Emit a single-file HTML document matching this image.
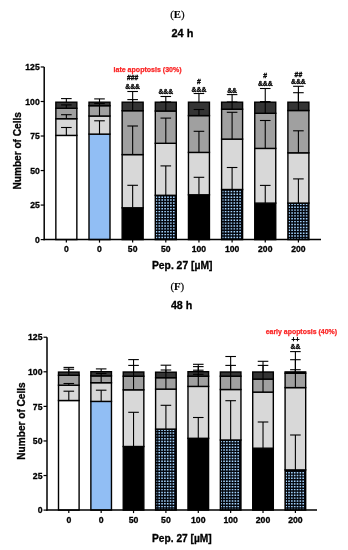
<!DOCTYPE html>
<html><head><meta charset="utf-8"><style>
html,body{margin:0;padding:0;background:#fff;}
body{width:348px;height:550px;overflow:hidden;}
svg{display:block;}
text{font-family:"Liberation Sans",Arial,sans-serif;font-weight:bold;fill:#000;stroke:#000;stroke-width:0.3px;}
.ser{font-family:"Liberation Serif","Times New Roman",serif;}
.red{fill:#fb2424;stroke:#fb2424;stroke-width:0.25px;}
.ser{stroke-width:0.15px;}
.np{font-weight:normal;stroke-width:0.2px;}
</style></head><body>
<svg width="348" height="550" viewBox="0 0 348 550">
<defs>

</defs>
<rect width="348" height="550" fill="#fff"/>
<rect x="55.85" y="135.4" width="21" height="104.2" fill="#fff" stroke="#000" stroke-width="1.4"/>
<rect x="55.85" y="118.7" width="21" height="16.7" fill="#d8d8d8" stroke="#000" stroke-width="1.4"/>
<rect x="55.85" y="108.3" width="21" height="10.4" fill="#a0a0a0" stroke="#000" stroke-width="1.4"/>
<rect x="55.85" y="102.2" width="21" height="6.1" fill="#343434" stroke="#000" stroke-width="1.4"/>
<line x1="66.35" y1="135.4" x2="66.35" y2="127.5" stroke="#000" stroke-width="1.1"/>
<line x1="61.05" y1="127.5" x2="71.65" y2="127.5" stroke="#000" stroke-width="1.1"/>
<line x1="66.35" y1="118.7" x2="66.35" y2="114.7" stroke="#000" stroke-width="1.1"/>
<line x1="61.05" y1="114.7" x2="71.65" y2="114.7" stroke="#000" stroke-width="1.1"/>
<line x1="66.35" y1="108.3" x2="66.35" y2="104.9" stroke="#000" stroke-width="1.1"/>
<line x1="61.05" y1="104.9" x2="71.65" y2="104.9" stroke="#000" stroke-width="1.1"/>
<line x1="66.35" y1="102.2" x2="66.35" y2="98.6" stroke="#000" stroke-width="1.1"/>
<line x1="61.05" y1="98.6" x2="71.65" y2="98.6" stroke="#000" stroke-width="1.1"/>
<rect x="89" y="134.1" width="21" height="105.5" fill="#91bef4" stroke="#000" stroke-width="1.4"/>
<rect x="89" y="116" width="21" height="18.1" fill="#d8d8d8" stroke="#000" stroke-width="1.4"/>
<rect x="89" y="105.7" width="21" height="10.3" fill="#a0a0a0" stroke="#000" stroke-width="1.4"/>
<rect x="89" y="102.2" width="21" height="3.5" fill="#343434" stroke="#000" stroke-width="1.4"/>
<line x1="99.5" y1="134.1" x2="99.5" y2="120.8" stroke="#000" stroke-width="1.1"/>
<line x1="94.2" y1="120.8" x2="104.8" y2="120.8" stroke="#000" stroke-width="1.1"/>
<line x1="99.5" y1="116" x2="99.5" y2="103.6" stroke="#000" stroke-width="1.1"/>
<line x1="94.2" y1="103.6" x2="104.8" y2="103.6" stroke="#000" stroke-width="1.1"/>
<line x1="99.5" y1="102.2" x2="99.5" y2="98.9" stroke="#000" stroke-width="1.1"/>
<line x1="94.2" y1="98.9" x2="104.8" y2="98.9" stroke="#000" stroke-width="1.1"/>
<rect x="122.15" y="207.8" width="21" height="31.8" fill="#000" stroke="#000" stroke-width="1.4"/>
<rect x="122.15" y="154.6" width="21" height="53.2" fill="#d8d8d8" stroke="#000" stroke-width="1.4"/>
<rect x="122.15" y="110.7" width="21" height="43.9" fill="#a0a0a0" stroke="#000" stroke-width="1.4"/>
<rect x="122.15" y="102.2" width="21" height="8.5" fill="#343434" stroke="#000" stroke-width="1.4"/>
<line x1="132.65" y1="207.8" x2="132.65" y2="185.3" stroke="#000" stroke-width="1.1"/>
<line x1="127.35" y1="185.3" x2="137.95" y2="185.3" stroke="#000" stroke-width="1.1"/>
<line x1="132.65" y1="154.6" x2="132.65" y2="126" stroke="#000" stroke-width="1.1"/>
<line x1="127.35" y1="126" x2="137.95" y2="126" stroke="#000" stroke-width="1.1"/>
<line x1="132.65" y1="110.7" x2="132.65" y2="99.6" stroke="#000" stroke-width="1.1"/>
<line x1="127.35" y1="99.6" x2="137.95" y2="99.6" stroke="#000" stroke-width="1.1"/>
<line x1="132.65" y1="102.2" x2="132.65" y2="91.5" stroke="#000" stroke-width="1.1"/>
<line x1="127.35" y1="91.5" x2="137.95" y2="91.5" stroke="#000" stroke-width="1.1"/>
<rect x="155.3" y="195.3" width="21" height="44.3" fill="#04070e"/>
<path fill="#a2d2fc" d="M156 196.47h1.2v1.45h-1.2zM156 199.36h1.2v1.45h-1.2zM156 202.24h1.2v1.45h-1.2zM156 205.12h1.2v1.45h-1.2zM156 208h1.2v1.45h-1.2zM156 210.88h1.2v1.45h-1.2zM156 213.75h1.2v1.45h-1.2zM156 216.64h1.2v1.45h-1.2zM156 219.52h1.2v1.45h-1.2zM156 222.4h1.2v1.45h-1.2zM156 225.28h1.2v1.45h-1.2zM156 228.16h1.2v1.45h-1.2zM156 231.03h1.2v1.45h-1.2zM156 233.91h1.2v1.45h-1.2zM156 236.8h1.2v1.45h-1.2zM158.5 196.47h1.6v1.45h-1.6zM158.5 199.36h1.6v1.45h-1.6zM158.5 202.24h1.6v1.45h-1.6zM158.5 205.12h1.6v1.45h-1.6zM158.5 208h1.6v1.45h-1.6zM158.5 210.88h1.6v1.45h-1.6zM158.5 213.75h1.6v1.45h-1.6zM158.5 216.64h1.6v1.45h-1.6zM158.5 219.52h1.6v1.45h-1.6zM158.5 222.4h1.6v1.45h-1.6zM158.5 225.28h1.6v1.45h-1.6zM158.5 228.16h1.6v1.45h-1.6zM158.5 231.03h1.6v1.45h-1.6zM158.5 233.91h1.6v1.45h-1.6zM158.5 236.8h1.6v1.45h-1.6zM161.4 196.47h1.6v1.45h-1.6zM161.4 199.36h1.6v1.45h-1.6zM161.4 202.24h1.6v1.45h-1.6zM161.4 205.12h1.6v1.45h-1.6zM161.4 208h1.6v1.45h-1.6zM161.4 210.88h1.6v1.45h-1.6zM161.4 213.75h1.6v1.45h-1.6zM161.4 216.64h1.6v1.45h-1.6zM161.4 219.52h1.6v1.45h-1.6zM161.4 222.4h1.6v1.45h-1.6zM161.4 225.28h1.6v1.45h-1.6zM161.4 228.16h1.6v1.45h-1.6zM161.4 231.03h1.6v1.45h-1.6zM161.4 233.91h1.6v1.45h-1.6zM161.4 236.8h1.6v1.45h-1.6zM164.3 196.47h1.6v1.45h-1.6zM164.3 199.36h1.6v1.45h-1.6zM164.3 202.24h1.6v1.45h-1.6zM164.3 205.12h1.6v1.45h-1.6zM164.3 208h1.6v1.45h-1.6zM164.3 210.88h1.6v1.45h-1.6zM164.3 213.75h1.6v1.45h-1.6zM164.3 216.64h1.6v1.45h-1.6zM164.3 219.52h1.6v1.45h-1.6zM164.3 222.4h1.6v1.45h-1.6zM164.3 225.28h1.6v1.45h-1.6zM164.3 228.16h1.6v1.45h-1.6zM164.3 231.03h1.6v1.45h-1.6zM164.3 233.91h1.6v1.45h-1.6zM164.3 236.8h1.6v1.45h-1.6zM167.2 196.47h1.6v1.45h-1.6zM167.2 199.36h1.6v1.45h-1.6zM167.2 202.24h1.6v1.45h-1.6zM167.2 205.12h1.6v1.45h-1.6zM167.2 208h1.6v1.45h-1.6zM167.2 210.88h1.6v1.45h-1.6zM167.2 213.75h1.6v1.45h-1.6zM167.2 216.64h1.6v1.45h-1.6zM167.2 219.52h1.6v1.45h-1.6zM167.2 222.4h1.6v1.45h-1.6zM167.2 225.28h1.6v1.45h-1.6zM167.2 228.16h1.6v1.45h-1.6zM167.2 231.03h1.6v1.45h-1.6zM167.2 233.91h1.6v1.45h-1.6zM167.2 236.8h1.6v1.45h-1.6zM170.1 196.47h1.6v1.45h-1.6zM170.1 199.36h1.6v1.45h-1.6zM170.1 202.24h1.6v1.45h-1.6zM170.1 205.12h1.6v1.45h-1.6zM170.1 208h1.6v1.45h-1.6zM170.1 210.88h1.6v1.45h-1.6zM170.1 213.75h1.6v1.45h-1.6zM170.1 216.64h1.6v1.45h-1.6zM170.1 219.52h1.6v1.45h-1.6zM170.1 222.4h1.6v1.45h-1.6zM170.1 225.28h1.6v1.45h-1.6zM170.1 228.16h1.6v1.45h-1.6zM170.1 231.03h1.6v1.45h-1.6zM170.1 233.91h1.6v1.45h-1.6zM170.1 236.8h1.6v1.45h-1.6zM173 196.47h1.6v1.45h-1.6zM173 199.36h1.6v1.45h-1.6zM173 202.24h1.6v1.45h-1.6zM173 205.12h1.6v1.45h-1.6zM173 208h1.6v1.45h-1.6zM173 210.88h1.6v1.45h-1.6zM173 213.75h1.6v1.45h-1.6zM173 216.64h1.6v1.45h-1.6zM173 219.52h1.6v1.45h-1.6zM173 222.4h1.6v1.45h-1.6zM173 225.28h1.6v1.45h-1.6zM173 228.16h1.6v1.45h-1.6zM173 231.03h1.6v1.45h-1.6zM173 233.91h1.6v1.45h-1.6zM173 236.8h1.6v1.45h-1.6z"/>
<rect x="155.3" y="195.3" width="21" height="44.3" fill="none" stroke="#000" stroke-width="1.4"/>
<rect x="155.3" y="143.3" width="21" height="52" fill="#d8d8d8" stroke="#000" stroke-width="1.4"/>
<rect x="155.3" y="111" width="21" height="32.3" fill="#a0a0a0" stroke="#000" stroke-width="1.4"/>
<rect x="155.3" y="102.2" width="21" height="8.8" fill="#343434" stroke="#000" stroke-width="1.4"/>
<line x1="165.8" y1="195.3" x2="165.8" y2="165.9" stroke="#000" stroke-width="1.1"/>
<line x1="160.5" y1="165.9" x2="171.1" y2="165.9" stroke="#000" stroke-width="1.1"/>
<line x1="165.8" y1="143.3" x2="165.8" y2="118.1" stroke="#000" stroke-width="1.1"/>
<line x1="160.5" y1="118.1" x2="171.1" y2="118.1" stroke="#000" stroke-width="1.1"/>
<line x1="165.8" y1="111" x2="165.8" y2="102" stroke="#000" stroke-width="1.1"/>
<line x1="160.5" y1="102" x2="171.1" y2="102" stroke="#000" stroke-width="1.1"/>
<line x1="165.8" y1="102.2" x2="165.8" y2="96.5" stroke="#000" stroke-width="1.1"/>
<line x1="160.5" y1="96.5" x2="171.1" y2="96.5" stroke="#000" stroke-width="1.1"/>
<rect x="188.45" y="194.8" width="21" height="44.8" fill="#000" stroke="#000" stroke-width="1.4"/>
<rect x="188.45" y="152.4" width="21" height="42.4" fill="#d8d8d8" stroke="#000" stroke-width="1.4"/>
<rect x="188.45" y="115.6" width="21" height="36.8" fill="#a0a0a0" stroke="#000" stroke-width="1.4"/>
<rect x="188.45" y="102.2" width="21" height="13.4" fill="#343434" stroke="#000" stroke-width="1.4"/>
<line x1="198.95" y1="194.8" x2="198.95" y2="177.3" stroke="#000" stroke-width="1.1"/>
<line x1="193.65" y1="177.3" x2="204.25" y2="177.3" stroke="#000" stroke-width="1.1"/>
<line x1="198.95" y1="152.4" x2="198.95" y2="131.3" stroke="#000" stroke-width="1.1"/>
<line x1="193.65" y1="131.3" x2="204.25" y2="131.3" stroke="#000" stroke-width="1.1"/>
<line x1="198.95" y1="115.6" x2="198.95" y2="109.5" stroke="#000" stroke-width="1.1"/>
<line x1="193.65" y1="109.5" x2="204.25" y2="109.5" stroke="#000" stroke-width="1.1"/>
<line x1="198.95" y1="102.2" x2="198.95" y2="93.5" stroke="#000" stroke-width="1.1"/>
<line x1="193.65" y1="93.5" x2="204.25" y2="93.5" stroke="#000" stroke-width="1.1"/>
<rect x="221.6" y="189.5" width="21" height="50.1" fill="#04070e"/>
<path fill="#a2d2fc" d="M222.3 190.72h1.2v1.45h-1.2zM222.3 193.59h1.2v1.45h-1.2zM222.3 196.47h1.2v1.45h-1.2zM222.3 199.36h1.2v1.45h-1.2zM222.3 202.24h1.2v1.45h-1.2zM222.3 205.12h1.2v1.45h-1.2zM222.3 208h1.2v1.45h-1.2zM222.3 210.88h1.2v1.45h-1.2zM222.3 213.75h1.2v1.45h-1.2zM222.3 216.64h1.2v1.45h-1.2zM222.3 219.52h1.2v1.45h-1.2zM222.3 222.4h1.2v1.45h-1.2zM222.3 225.28h1.2v1.45h-1.2zM222.3 228.16h1.2v1.45h-1.2zM222.3 231.03h1.2v1.45h-1.2zM222.3 233.91h1.2v1.45h-1.2zM222.3 236.8h1.2v1.45h-1.2zM224.8 190.72h1.6v1.45h-1.6zM224.8 193.59h1.6v1.45h-1.6zM224.8 196.47h1.6v1.45h-1.6zM224.8 199.36h1.6v1.45h-1.6zM224.8 202.24h1.6v1.45h-1.6zM224.8 205.12h1.6v1.45h-1.6zM224.8 208h1.6v1.45h-1.6zM224.8 210.88h1.6v1.45h-1.6zM224.8 213.75h1.6v1.45h-1.6zM224.8 216.64h1.6v1.45h-1.6zM224.8 219.52h1.6v1.45h-1.6zM224.8 222.4h1.6v1.45h-1.6zM224.8 225.28h1.6v1.45h-1.6zM224.8 228.16h1.6v1.45h-1.6zM224.8 231.03h1.6v1.45h-1.6zM224.8 233.91h1.6v1.45h-1.6zM224.8 236.8h1.6v1.45h-1.6zM227.7 190.72h1.6v1.45h-1.6zM227.7 193.59h1.6v1.45h-1.6zM227.7 196.47h1.6v1.45h-1.6zM227.7 199.36h1.6v1.45h-1.6zM227.7 202.24h1.6v1.45h-1.6zM227.7 205.12h1.6v1.45h-1.6zM227.7 208h1.6v1.45h-1.6zM227.7 210.88h1.6v1.45h-1.6zM227.7 213.75h1.6v1.45h-1.6zM227.7 216.64h1.6v1.45h-1.6zM227.7 219.52h1.6v1.45h-1.6zM227.7 222.4h1.6v1.45h-1.6zM227.7 225.28h1.6v1.45h-1.6zM227.7 228.16h1.6v1.45h-1.6zM227.7 231.03h1.6v1.45h-1.6zM227.7 233.91h1.6v1.45h-1.6zM227.7 236.8h1.6v1.45h-1.6zM230.6 190.72h1.6v1.45h-1.6zM230.6 193.59h1.6v1.45h-1.6zM230.6 196.47h1.6v1.45h-1.6zM230.6 199.36h1.6v1.45h-1.6zM230.6 202.24h1.6v1.45h-1.6zM230.6 205.12h1.6v1.45h-1.6zM230.6 208h1.6v1.45h-1.6zM230.6 210.88h1.6v1.45h-1.6zM230.6 213.75h1.6v1.45h-1.6zM230.6 216.64h1.6v1.45h-1.6zM230.6 219.52h1.6v1.45h-1.6zM230.6 222.4h1.6v1.45h-1.6zM230.6 225.28h1.6v1.45h-1.6zM230.6 228.16h1.6v1.45h-1.6zM230.6 231.03h1.6v1.45h-1.6zM230.6 233.91h1.6v1.45h-1.6zM230.6 236.8h1.6v1.45h-1.6zM233.5 190.72h1.6v1.45h-1.6zM233.5 193.59h1.6v1.45h-1.6zM233.5 196.47h1.6v1.45h-1.6zM233.5 199.36h1.6v1.45h-1.6zM233.5 202.24h1.6v1.45h-1.6zM233.5 205.12h1.6v1.45h-1.6zM233.5 208h1.6v1.45h-1.6zM233.5 210.88h1.6v1.45h-1.6zM233.5 213.75h1.6v1.45h-1.6zM233.5 216.64h1.6v1.45h-1.6zM233.5 219.52h1.6v1.45h-1.6zM233.5 222.4h1.6v1.45h-1.6zM233.5 225.28h1.6v1.45h-1.6zM233.5 228.16h1.6v1.45h-1.6zM233.5 231.03h1.6v1.45h-1.6zM233.5 233.91h1.6v1.45h-1.6zM233.5 236.8h1.6v1.45h-1.6zM236.4 190.72h1.6v1.45h-1.6zM236.4 193.59h1.6v1.45h-1.6zM236.4 196.47h1.6v1.45h-1.6zM236.4 199.36h1.6v1.45h-1.6zM236.4 202.24h1.6v1.45h-1.6zM236.4 205.12h1.6v1.45h-1.6zM236.4 208h1.6v1.45h-1.6zM236.4 210.88h1.6v1.45h-1.6zM236.4 213.75h1.6v1.45h-1.6zM236.4 216.64h1.6v1.45h-1.6zM236.4 219.52h1.6v1.45h-1.6zM236.4 222.4h1.6v1.45h-1.6zM236.4 225.28h1.6v1.45h-1.6zM236.4 228.16h1.6v1.45h-1.6zM236.4 231.03h1.6v1.45h-1.6zM236.4 233.91h1.6v1.45h-1.6zM236.4 236.8h1.6v1.45h-1.6zM239.3 190.72h1.6v1.45h-1.6zM239.3 193.59h1.6v1.45h-1.6zM239.3 196.47h1.6v1.45h-1.6zM239.3 199.36h1.6v1.45h-1.6zM239.3 202.24h1.6v1.45h-1.6zM239.3 205.12h1.6v1.45h-1.6zM239.3 208h1.6v1.45h-1.6zM239.3 210.88h1.6v1.45h-1.6zM239.3 213.75h1.6v1.45h-1.6zM239.3 216.64h1.6v1.45h-1.6zM239.3 219.52h1.6v1.45h-1.6zM239.3 222.4h1.6v1.45h-1.6zM239.3 225.28h1.6v1.45h-1.6zM239.3 228.16h1.6v1.45h-1.6zM239.3 231.03h1.6v1.45h-1.6zM239.3 233.91h1.6v1.45h-1.6zM239.3 236.8h1.6v1.45h-1.6z"/>
<rect x="221.6" y="189.5" width="21" height="50.1" fill="none" stroke="#000" stroke-width="1.4"/>
<rect x="221.6" y="139.1" width="21" height="50.4" fill="#d8d8d8" stroke="#000" stroke-width="1.4"/>
<rect x="221.6" y="109.2" width="21" height="29.9" fill="#a0a0a0" stroke="#000" stroke-width="1.4"/>
<rect x="221.6" y="102.2" width="21" height="7" fill="#343434" stroke="#000" stroke-width="1.4"/>
<line x1="232.1" y1="189.5" x2="232.1" y2="167.5" stroke="#000" stroke-width="1.1"/>
<line x1="226.8" y1="167.5" x2="237.4" y2="167.5" stroke="#000" stroke-width="1.1"/>
<line x1="232.1" y1="139.1" x2="232.1" y2="112.3" stroke="#000" stroke-width="1.1"/>
<line x1="226.8" y1="112.3" x2="237.4" y2="112.3" stroke="#000" stroke-width="1.1"/>
<line x1="232.1" y1="109.2" x2="232.1" y2="102" stroke="#000" stroke-width="1.1"/>
<line x1="226.8" y1="102" x2="237.4" y2="102" stroke="#000" stroke-width="1.1"/>
<line x1="232.1" y1="102.2" x2="232.1" y2="94.6" stroke="#000" stroke-width="1.1"/>
<line x1="226.8" y1="94.6" x2="237.4" y2="94.6" stroke="#000" stroke-width="1.1"/>
<rect x="254.75" y="203.1" width="21" height="36.5" fill="#000" stroke="#000" stroke-width="1.4"/>
<rect x="254.75" y="148.4" width="21" height="54.7" fill="#d8d8d8" stroke="#000" stroke-width="1.4"/>
<rect x="254.75" y="113.3" width="21" height="35.1" fill="#a0a0a0" stroke="#000" stroke-width="1.4"/>
<rect x="254.75" y="102.2" width="21" height="11.1" fill="#343434" stroke="#000" stroke-width="1.4"/>
<line x1="265.25" y1="203.1" x2="265.25" y2="185.4" stroke="#000" stroke-width="1.1"/>
<line x1="259.95" y1="185.4" x2="270.55" y2="185.4" stroke="#000" stroke-width="1.1"/>
<line x1="265.25" y1="148.4" x2="265.25" y2="120.5" stroke="#000" stroke-width="1.1"/>
<line x1="259.95" y1="120.5" x2="270.55" y2="120.5" stroke="#000" stroke-width="1.1"/>
<line x1="265.25" y1="113.3" x2="265.25" y2="101.6" stroke="#000" stroke-width="1.1"/>
<line x1="259.95" y1="101.6" x2="270.55" y2="101.6" stroke="#000" stroke-width="1.1"/>
<line x1="265.25" y1="102.2" x2="265.25" y2="88.5" stroke="#000" stroke-width="1.1"/>
<line x1="259.95" y1="88.5" x2="270.55" y2="88.5" stroke="#000" stroke-width="1.1"/>
<rect x="287.9" y="203.1" width="21" height="36.5" fill="#04070e"/>
<path fill="#a2d2fc" d="M288.6 203.8h1.4v1.29h-1.4zM288.6 206.52h1.4v1.45h-1.4zM288.6 209.4h1.4v1.45h-1.4zM288.6 212.28h1.4v1.45h-1.4zM288.6 215.16h1.4v1.45h-1.4zM288.6 218.03h1.4v1.45h-1.4zM288.6 220.92h1.4v1.45h-1.4zM288.6 223.8h1.4v1.45h-1.4zM288.6 226.68h1.4v1.45h-1.4zM288.6 229.56h1.4v1.45h-1.4zM288.6 232.44h1.4v1.45h-1.4zM288.6 235.32h1.4v1.45h-1.4zM288.6 238.2h1.4v1.4h-1.4zM291.3 203.8h1.6v1.29h-1.6zM291.3 206.52h1.6v1.45h-1.6zM291.3 209.4h1.6v1.45h-1.6zM291.3 212.28h1.6v1.45h-1.6zM291.3 215.16h1.6v1.45h-1.6zM291.3 218.03h1.6v1.45h-1.6zM291.3 220.92h1.6v1.45h-1.6zM291.3 223.8h1.6v1.45h-1.6zM291.3 226.68h1.6v1.45h-1.6zM291.3 229.56h1.6v1.45h-1.6zM291.3 232.44h1.6v1.45h-1.6zM291.3 235.32h1.6v1.45h-1.6zM291.3 238.2h1.6v1.4h-1.6zM294.2 203.8h1.6v1.29h-1.6zM294.2 206.52h1.6v1.45h-1.6zM294.2 209.4h1.6v1.45h-1.6zM294.2 212.28h1.6v1.45h-1.6zM294.2 215.16h1.6v1.45h-1.6zM294.2 218.03h1.6v1.45h-1.6zM294.2 220.92h1.6v1.45h-1.6zM294.2 223.8h1.6v1.45h-1.6zM294.2 226.68h1.6v1.45h-1.6zM294.2 229.56h1.6v1.45h-1.6zM294.2 232.44h1.6v1.45h-1.6zM294.2 235.32h1.6v1.45h-1.6zM294.2 238.2h1.6v1.4h-1.6zM297.1 203.8h1.6v1.29h-1.6zM297.1 206.52h1.6v1.45h-1.6zM297.1 209.4h1.6v1.45h-1.6zM297.1 212.28h1.6v1.45h-1.6zM297.1 215.16h1.6v1.45h-1.6zM297.1 218.03h1.6v1.45h-1.6zM297.1 220.92h1.6v1.45h-1.6zM297.1 223.8h1.6v1.45h-1.6zM297.1 226.68h1.6v1.45h-1.6zM297.1 229.56h1.6v1.45h-1.6zM297.1 232.44h1.6v1.45h-1.6zM297.1 235.32h1.6v1.45h-1.6zM297.1 238.2h1.6v1.4h-1.6zM300 203.8h1.6v1.29h-1.6zM300 206.52h1.6v1.45h-1.6zM300 209.4h1.6v1.45h-1.6zM300 212.28h1.6v1.45h-1.6zM300 215.16h1.6v1.45h-1.6zM300 218.03h1.6v1.45h-1.6zM300 220.92h1.6v1.45h-1.6zM300 223.8h1.6v1.45h-1.6zM300 226.68h1.6v1.45h-1.6zM300 229.56h1.6v1.45h-1.6zM300 232.44h1.6v1.45h-1.6zM300 235.32h1.6v1.45h-1.6zM300 238.2h1.6v1.4h-1.6zM302.9 203.8h1.6v1.29h-1.6zM302.9 206.52h1.6v1.45h-1.6zM302.9 209.4h1.6v1.45h-1.6zM302.9 212.28h1.6v1.45h-1.6zM302.9 215.16h1.6v1.45h-1.6zM302.9 218.03h1.6v1.45h-1.6zM302.9 220.92h1.6v1.45h-1.6zM302.9 223.8h1.6v1.45h-1.6zM302.9 226.68h1.6v1.45h-1.6zM302.9 229.56h1.6v1.45h-1.6zM302.9 232.44h1.6v1.45h-1.6zM302.9 235.32h1.6v1.45h-1.6zM302.9 238.2h1.6v1.4h-1.6zM305.8 203.8h1.6v1.29h-1.6zM305.8 206.52h1.6v1.45h-1.6zM305.8 209.4h1.6v1.45h-1.6zM305.8 212.28h1.6v1.45h-1.6zM305.8 215.16h1.6v1.45h-1.6zM305.8 218.03h1.6v1.45h-1.6zM305.8 220.92h1.6v1.45h-1.6zM305.8 223.8h1.6v1.45h-1.6zM305.8 226.68h1.6v1.45h-1.6zM305.8 229.56h1.6v1.45h-1.6zM305.8 232.44h1.6v1.45h-1.6zM305.8 235.32h1.6v1.45h-1.6zM305.8 238.2h1.6v1.4h-1.6z"/>
<rect x="287.9" y="203.1" width="21" height="36.5" fill="none" stroke="#000" stroke-width="1.4"/>
<rect x="287.9" y="152.8" width="21" height="50.3" fill="#d8d8d8" stroke="#000" stroke-width="1.4"/>
<rect x="287.9" y="110.5" width="21" height="42.3" fill="#a0a0a0" stroke="#000" stroke-width="1.4"/>
<rect x="287.9" y="102.2" width="21" height="8.3" fill="#343434" stroke="#000" stroke-width="1.4"/>
<line x1="298.4" y1="203.1" x2="298.4" y2="178.9" stroke="#000" stroke-width="1.1"/>
<line x1="293.1" y1="178.9" x2="303.7" y2="178.9" stroke="#000" stroke-width="1.1"/>
<line x1="298.4" y1="152.8" x2="298.4" y2="130.8" stroke="#000" stroke-width="1.1"/>
<line x1="293.1" y1="130.8" x2="303.7" y2="130.8" stroke="#000" stroke-width="1.1"/>
<line x1="298.4" y1="110.5" x2="298.4" y2="92.7" stroke="#000" stroke-width="1.1"/>
<line x1="293.1" y1="92.7" x2="303.7" y2="92.7" stroke="#000" stroke-width="1.1"/>
<line x1="298.4" y1="102.2" x2="298.4" y2="86.3" stroke="#000" stroke-width="1.1"/>
<line x1="293.1" y1="86.3" x2="303.7" y2="86.3" stroke="#000" stroke-width="1.1"/>
<line x1="44.2" y1="66.97" x2="44.2" y2="240.35" stroke="#000" stroke-width="1.5"/>
<line x1="43.45" y1="239.6" x2="321" y2="239.6" stroke="#000" stroke-width="1.5"/>
<line x1="40.7" y1="239.6" x2="44.2" y2="239.6" stroke="#000" stroke-width="1.2"/>
<text x="39.7" y="242.7" text-anchor="end" class="tk" style="font-size:8.6px">0</text>
<line x1="40.7" y1="205.07" x2="44.2" y2="205.07" stroke="#000" stroke-width="1.2"/>
<text x="39.7" y="208.17" text-anchor="end" class="tk" style="font-size:8.6px">25</text>
<line x1="40.7" y1="170.55" x2="44.2" y2="170.55" stroke="#000" stroke-width="1.2"/>
<text x="39.7" y="173.65" text-anchor="end" class="tk" style="font-size:8.6px">50</text>
<line x1="40.7" y1="136.02" x2="44.2" y2="136.02" stroke="#000" stroke-width="1.2"/>
<text x="39.7" y="139.12" text-anchor="end" class="tk" style="font-size:8.6px">75</text>
<line x1="40.7" y1="101.5" x2="44.2" y2="101.5" stroke="#000" stroke-width="1.2"/>
<text x="39.7" y="104.6" text-anchor="end" class="tk" style="font-size:8.6px">100</text>
<line x1="40.7" y1="66.97" x2="44.2" y2="66.97" stroke="#000" stroke-width="1.2"/>
<text x="39.7" y="70.07" text-anchor="end" class="tk" style="font-size:8.6px">125</text>
<line x1="66.35" y1="239.6" x2="66.35" y2="242.6" stroke="#000" stroke-width="1.2"/>
<text x="66.35" y="251.6" text-anchor="middle" class="tk" style="font-size:8.6px">0</text>
<line x1="99.5" y1="239.6" x2="99.5" y2="242.6" stroke="#000" stroke-width="1.2"/>
<text x="99.5" y="251.6" text-anchor="middle" class="tk" style="font-size:8.6px">0</text>
<line x1="132.65" y1="239.6" x2="132.65" y2="242.6" stroke="#000" stroke-width="1.2"/>
<text x="132.65" y="251.6" text-anchor="middle" class="tk" style="font-size:8.6px">50</text>
<line x1="165.8" y1="239.6" x2="165.8" y2="242.6" stroke="#000" stroke-width="1.2"/>
<text x="165.8" y="251.6" text-anchor="middle" class="tk" style="font-size:8.6px">50</text>
<line x1="198.95" y1="239.6" x2="198.95" y2="242.6" stroke="#000" stroke-width="1.2"/>
<text x="198.95" y="251.6" text-anchor="middle" class="tk" style="font-size:8.6px">100</text>
<line x1="232.1" y1="239.6" x2="232.1" y2="242.6" stroke="#000" stroke-width="1.2"/>
<text x="232.1" y="251.6" text-anchor="middle" class="tk" style="font-size:8.6px">100</text>
<line x1="265.25" y1="239.6" x2="265.25" y2="242.6" stroke="#000" stroke-width="1.2"/>
<text x="265.25" y="251.6" text-anchor="middle" class="tk" style="font-size:8.6px">200</text>
<line x1="298.4" y1="239.6" x2="298.4" y2="242.6" stroke="#000" stroke-width="1.2"/>
<text x="298.4" y="251.6" text-anchor="middle" class="tk" style="font-size:8.6px">200</text>
<rect x="58.5" y="400.5" width="20.6" height="109.6" fill="#fff" stroke="#000" stroke-width="1.4"/>
<rect x="58.5" y="385.2" width="20.6" height="15.3" fill="#d8d8d8" stroke="#000" stroke-width="1.4"/>
<rect x="58.5" y="375.3" width="20.6" height="9.9" fill="#a0a0a0" stroke="#000" stroke-width="1.4"/>
<rect x="58.5" y="372.1" width="20.6" height="3.2" fill="#343434" stroke="#000" stroke-width="1.4"/>
<line x1="68.8" y1="400.5" x2="68.8" y2="391.2" stroke="#000" stroke-width="1.1"/>
<line x1="63.5" y1="391.2" x2="74.1" y2="391.2" stroke="#000" stroke-width="1.1"/>
<line x1="68.8" y1="385.2" x2="68.8" y2="383.5" stroke="#000" stroke-width="1.1"/>
<line x1="63.5" y1="383.5" x2="74.1" y2="383.5" stroke="#000" stroke-width="1.1"/>
<line x1="68.8" y1="375.3" x2="68.8" y2="369.2" stroke="#000" stroke-width="1.1"/>
<line x1="63.5" y1="369.2" x2="74.1" y2="369.2" stroke="#000" stroke-width="1.1"/>
<line x1="68.8" y1="372.1" x2="68.8" y2="367.4" stroke="#000" stroke-width="1.1"/>
<line x1="63.5" y1="367.4" x2="74.1" y2="367.4" stroke="#000" stroke-width="1.1"/>
<rect x="90.87" y="401.4" width="20.6" height="108.7" fill="#91bef4" stroke="#000" stroke-width="1.4"/>
<rect x="90.87" y="382.7" width="20.6" height="18.7" fill="#d8d8d8" stroke="#000" stroke-width="1.4"/>
<rect x="90.87" y="375.9" width="20.6" height="6.8" fill="#a0a0a0" stroke="#000" stroke-width="1.4"/>
<rect x="90.87" y="371.7" width="20.6" height="4.2" fill="#343434" stroke="#000" stroke-width="1.4"/>
<line x1="101.17" y1="401.4" x2="101.17" y2="390.2" stroke="#000" stroke-width="1.1"/>
<line x1="95.87" y1="390.2" x2="106.47" y2="390.2" stroke="#000" stroke-width="1.1"/>
<line x1="101.17" y1="382.7" x2="101.17" y2="373.5" stroke="#000" stroke-width="1.1"/>
<line x1="95.87" y1="373.5" x2="106.47" y2="373.5" stroke="#000" stroke-width="1.1"/>
<line x1="101.17" y1="371.7" x2="101.17" y2="368.9" stroke="#000" stroke-width="1.1"/>
<line x1="95.87" y1="368.9" x2="106.47" y2="368.9" stroke="#000" stroke-width="1.1"/>
<rect x="123.24" y="446.5" width="20.6" height="63.6" fill="#000" stroke="#000" stroke-width="1.4"/>
<rect x="123.24" y="389.8" width="20.6" height="56.7" fill="#d8d8d8" stroke="#000" stroke-width="1.4"/>
<rect x="123.24" y="376.2" width="20.6" height="13.6" fill="#a0a0a0" stroke="#000" stroke-width="1.4"/>
<rect x="123.24" y="372" width="20.6" height="4.2" fill="#343434" stroke="#000" stroke-width="1.4"/>
<line x1="133.54" y1="446.5" x2="133.54" y2="412.3" stroke="#000" stroke-width="1.1"/>
<line x1="128.24" y1="412.3" x2="138.84" y2="412.3" stroke="#000" stroke-width="1.1"/>
<line x1="133.54" y1="389.8" x2="133.54" y2="365.4" stroke="#000" stroke-width="1.1"/>
<line x1="128.24" y1="365.4" x2="138.84" y2="365.4" stroke="#000" stroke-width="1.1"/>
<line x1="133.54" y1="372" x2="133.54" y2="359.6" stroke="#000" stroke-width="1.1"/>
<line x1="128.24" y1="359.6" x2="138.84" y2="359.6" stroke="#000" stroke-width="1.1"/>
<rect x="155.61" y="429.1" width="20.6" height="81" fill="#04070e"/>
<path fill="#a2d2fc" d="M156.31 429.8h0.89v1.14h-0.89zM156.31 432.31h0.89v1.45h-0.89zM156.31 435.14h0.89v1.45h-0.89zM156.31 437.97h0.89v1.45h-0.89zM156.31 440.81h0.89v1.45h-0.89zM156.31 443.63h0.89v1.45h-0.89zM156.31 446.46h0.89v1.45h-0.89zM156.31 449.29h0.89v1.45h-0.89zM156.31 452.12h0.89v1.45h-0.89zM156.31 454.95h0.89v1.45h-0.89zM156.31 457.78h0.89v1.45h-0.89zM156.31 460.62h0.89v1.45h-0.89zM156.31 463.44h0.89v1.45h-0.89zM156.31 466.27h0.89v1.45h-0.89zM156.31 469.11h0.89v1.45h-0.89zM156.31 471.94h0.89v1.45h-0.89zM156.31 474.76h0.89v1.45h-0.89zM156.31 477.59h0.89v1.45h-0.89zM156.31 480.43h0.89v1.45h-0.89zM156.31 483.25h0.89v1.45h-0.89zM156.31 486.08h0.89v1.45h-0.89zM156.31 488.91h0.89v1.45h-0.89zM156.31 491.75h0.89v1.45h-0.89zM156.31 494.57h0.89v1.45h-0.89zM156.31 497.4h0.89v1.45h-0.89zM156.31 500.24h0.89v1.45h-0.89zM156.31 503.06h0.89v1.45h-0.89zM156.31 505.89h0.89v1.45h-0.89zM156.31 508.72h0.89v1.38h-0.89zM158.43 429.8h1.6v1.14h-1.6zM158.43 432.31h1.6v1.45h-1.6zM158.43 435.14h1.6v1.45h-1.6zM158.43 437.97h1.6v1.45h-1.6zM158.43 440.81h1.6v1.45h-1.6zM158.43 443.63h1.6v1.45h-1.6zM158.43 446.46h1.6v1.45h-1.6zM158.43 449.29h1.6v1.45h-1.6zM158.43 452.12h1.6v1.45h-1.6zM158.43 454.95h1.6v1.45h-1.6zM158.43 457.78h1.6v1.45h-1.6zM158.43 460.62h1.6v1.45h-1.6zM158.43 463.44h1.6v1.45h-1.6zM158.43 466.27h1.6v1.45h-1.6zM158.43 469.11h1.6v1.45h-1.6zM158.43 471.94h1.6v1.45h-1.6zM158.43 474.76h1.6v1.45h-1.6zM158.43 477.59h1.6v1.45h-1.6zM158.43 480.43h1.6v1.45h-1.6zM158.43 483.25h1.6v1.45h-1.6zM158.43 486.08h1.6v1.45h-1.6zM158.43 488.91h1.6v1.45h-1.6zM158.43 491.75h1.6v1.45h-1.6zM158.43 494.57h1.6v1.45h-1.6zM158.43 497.4h1.6v1.45h-1.6zM158.43 500.24h1.6v1.45h-1.6zM158.43 503.06h1.6v1.45h-1.6zM158.43 505.89h1.6v1.45h-1.6zM158.43 508.72h1.6v1.38h-1.6zM161.26 429.8h1.6v1.14h-1.6zM161.26 432.31h1.6v1.45h-1.6zM161.26 435.14h1.6v1.45h-1.6zM161.26 437.97h1.6v1.45h-1.6zM161.26 440.81h1.6v1.45h-1.6zM161.26 443.63h1.6v1.45h-1.6zM161.26 446.46h1.6v1.45h-1.6zM161.26 449.29h1.6v1.45h-1.6zM161.26 452.12h1.6v1.45h-1.6zM161.26 454.95h1.6v1.45h-1.6zM161.26 457.78h1.6v1.45h-1.6zM161.26 460.62h1.6v1.45h-1.6zM161.26 463.44h1.6v1.45h-1.6zM161.26 466.27h1.6v1.45h-1.6zM161.26 469.11h1.6v1.45h-1.6zM161.26 471.94h1.6v1.45h-1.6zM161.26 474.76h1.6v1.45h-1.6zM161.26 477.59h1.6v1.45h-1.6zM161.26 480.43h1.6v1.45h-1.6zM161.26 483.25h1.6v1.45h-1.6zM161.26 486.08h1.6v1.45h-1.6zM161.26 488.91h1.6v1.45h-1.6zM161.26 491.75h1.6v1.45h-1.6zM161.26 494.57h1.6v1.45h-1.6zM161.26 497.4h1.6v1.45h-1.6zM161.26 500.24h1.6v1.45h-1.6zM161.26 503.06h1.6v1.45h-1.6zM161.26 505.89h1.6v1.45h-1.6zM161.26 508.72h1.6v1.38h-1.6zM164.09 429.8h1.6v1.14h-1.6zM164.09 432.31h1.6v1.45h-1.6zM164.09 435.14h1.6v1.45h-1.6zM164.09 437.97h1.6v1.45h-1.6zM164.09 440.81h1.6v1.45h-1.6zM164.09 443.63h1.6v1.45h-1.6zM164.09 446.46h1.6v1.45h-1.6zM164.09 449.29h1.6v1.45h-1.6zM164.09 452.12h1.6v1.45h-1.6zM164.09 454.95h1.6v1.45h-1.6zM164.09 457.78h1.6v1.45h-1.6zM164.09 460.62h1.6v1.45h-1.6zM164.09 463.44h1.6v1.45h-1.6zM164.09 466.27h1.6v1.45h-1.6zM164.09 469.11h1.6v1.45h-1.6zM164.09 471.94h1.6v1.45h-1.6zM164.09 474.76h1.6v1.45h-1.6zM164.09 477.59h1.6v1.45h-1.6zM164.09 480.43h1.6v1.45h-1.6zM164.09 483.25h1.6v1.45h-1.6zM164.09 486.08h1.6v1.45h-1.6zM164.09 488.91h1.6v1.45h-1.6zM164.09 491.75h1.6v1.45h-1.6zM164.09 494.57h1.6v1.45h-1.6zM164.09 497.4h1.6v1.45h-1.6zM164.09 500.24h1.6v1.45h-1.6zM164.09 503.06h1.6v1.45h-1.6zM164.09 505.89h1.6v1.45h-1.6zM164.09 508.72h1.6v1.38h-1.6zM166.92 429.8h1.6v1.14h-1.6zM166.92 432.31h1.6v1.45h-1.6zM166.92 435.14h1.6v1.45h-1.6zM166.92 437.97h1.6v1.45h-1.6zM166.92 440.81h1.6v1.45h-1.6zM166.92 443.63h1.6v1.45h-1.6zM166.92 446.46h1.6v1.45h-1.6zM166.92 449.29h1.6v1.45h-1.6zM166.92 452.12h1.6v1.45h-1.6zM166.92 454.95h1.6v1.45h-1.6zM166.92 457.78h1.6v1.45h-1.6zM166.92 460.62h1.6v1.45h-1.6zM166.92 463.44h1.6v1.45h-1.6zM166.92 466.27h1.6v1.45h-1.6zM166.92 469.11h1.6v1.45h-1.6zM166.92 471.94h1.6v1.45h-1.6zM166.92 474.76h1.6v1.45h-1.6zM166.92 477.59h1.6v1.45h-1.6zM166.92 480.43h1.6v1.45h-1.6zM166.92 483.25h1.6v1.45h-1.6zM166.92 486.08h1.6v1.45h-1.6zM166.92 488.91h1.6v1.45h-1.6zM166.92 491.75h1.6v1.45h-1.6zM166.92 494.57h1.6v1.45h-1.6zM166.92 497.4h1.6v1.45h-1.6zM166.92 500.24h1.6v1.45h-1.6zM166.92 503.06h1.6v1.45h-1.6zM166.92 505.89h1.6v1.45h-1.6zM166.92 508.72h1.6v1.38h-1.6zM169.75 429.8h1.6v1.14h-1.6zM169.75 432.31h1.6v1.45h-1.6zM169.75 435.14h1.6v1.45h-1.6zM169.75 437.97h1.6v1.45h-1.6zM169.75 440.81h1.6v1.45h-1.6zM169.75 443.63h1.6v1.45h-1.6zM169.75 446.46h1.6v1.45h-1.6zM169.75 449.29h1.6v1.45h-1.6zM169.75 452.12h1.6v1.45h-1.6zM169.75 454.95h1.6v1.45h-1.6zM169.75 457.78h1.6v1.45h-1.6zM169.75 460.62h1.6v1.45h-1.6zM169.75 463.44h1.6v1.45h-1.6zM169.75 466.27h1.6v1.45h-1.6zM169.75 469.11h1.6v1.45h-1.6zM169.75 471.94h1.6v1.45h-1.6zM169.75 474.76h1.6v1.45h-1.6zM169.75 477.59h1.6v1.45h-1.6zM169.75 480.43h1.6v1.45h-1.6zM169.75 483.25h1.6v1.45h-1.6zM169.75 486.08h1.6v1.45h-1.6zM169.75 488.91h1.6v1.45h-1.6zM169.75 491.75h1.6v1.45h-1.6zM169.75 494.57h1.6v1.45h-1.6zM169.75 497.4h1.6v1.45h-1.6zM169.75 500.24h1.6v1.45h-1.6zM169.75 503.06h1.6v1.45h-1.6zM169.75 505.89h1.6v1.45h-1.6zM169.75 508.72h1.6v1.38h-1.6zM172.58 429.8h1.6v1.14h-1.6zM172.58 432.31h1.6v1.45h-1.6zM172.58 435.14h1.6v1.45h-1.6zM172.58 437.97h1.6v1.45h-1.6zM172.58 440.81h1.6v1.45h-1.6zM172.58 443.63h1.6v1.45h-1.6zM172.58 446.46h1.6v1.45h-1.6zM172.58 449.29h1.6v1.45h-1.6zM172.58 452.12h1.6v1.45h-1.6zM172.58 454.95h1.6v1.45h-1.6zM172.58 457.78h1.6v1.45h-1.6zM172.58 460.62h1.6v1.45h-1.6zM172.58 463.44h1.6v1.45h-1.6zM172.58 466.27h1.6v1.45h-1.6zM172.58 469.11h1.6v1.45h-1.6zM172.58 471.94h1.6v1.45h-1.6zM172.58 474.76h1.6v1.45h-1.6zM172.58 477.59h1.6v1.45h-1.6zM172.58 480.43h1.6v1.45h-1.6zM172.58 483.25h1.6v1.45h-1.6zM172.58 486.08h1.6v1.45h-1.6zM172.58 488.91h1.6v1.45h-1.6zM172.58 491.75h1.6v1.45h-1.6zM172.58 494.57h1.6v1.45h-1.6zM172.58 497.4h1.6v1.45h-1.6zM172.58 500.24h1.6v1.45h-1.6zM172.58 503.06h1.6v1.45h-1.6zM172.58 505.89h1.6v1.45h-1.6zM172.58 508.72h1.6v1.38h-1.6z"/>
<rect x="155.61" y="429.1" width="20.6" height="81" fill="none" stroke="#000" stroke-width="1.4"/>
<rect x="155.61" y="389.1" width="20.6" height="40" fill="#d8d8d8" stroke="#000" stroke-width="1.4"/>
<rect x="155.61" y="377.7" width="20.6" height="11.4" fill="#a0a0a0" stroke="#000" stroke-width="1.4"/>
<rect x="155.61" y="372.2" width="20.6" height="5.5" fill="#343434" stroke="#000" stroke-width="1.4"/>
<line x1="165.91" y1="429.1" x2="165.91" y2="405.3" stroke="#000" stroke-width="1.1"/>
<line x1="160.61" y1="405.3" x2="171.21" y2="405.3" stroke="#000" stroke-width="1.1"/>
<line x1="165.91" y1="389.1" x2="165.91" y2="370" stroke="#000" stroke-width="1.1"/>
<line x1="160.61" y1="370" x2="171.21" y2="370" stroke="#000" stroke-width="1.1"/>
<line x1="165.91" y1="372.2" x2="165.91" y2="365.2" stroke="#000" stroke-width="1.1"/>
<line x1="160.61" y1="365.2" x2="171.21" y2="365.2" stroke="#000" stroke-width="1.1"/>
<rect x="187.98" y="438.3" width="20.6" height="71.8" fill="#000" stroke="#000" stroke-width="1.4"/>
<rect x="187.98" y="386.4" width="20.6" height="51.9" fill="#d8d8d8" stroke="#000" stroke-width="1.4"/>
<rect x="187.98" y="376.2" width="20.6" height="10.2" fill="#a0a0a0" stroke="#000" stroke-width="1.4"/>
<rect x="187.98" y="371.7" width="20.6" height="4.5" fill="#343434" stroke="#000" stroke-width="1.4"/>
<line x1="198.28" y1="438.3" x2="198.28" y2="417.5" stroke="#000" stroke-width="1.1"/>
<line x1="192.98" y1="417.5" x2="203.58" y2="417.5" stroke="#000" stroke-width="1.1"/>
<line x1="198.28" y1="386.4" x2="198.28" y2="374.3" stroke="#000" stroke-width="1.1"/>
<line x1="192.98" y1="374.3" x2="203.58" y2="374.3" stroke="#000" stroke-width="1.1"/>
<line x1="198.28" y1="376.2" x2="198.28" y2="370.2" stroke="#000" stroke-width="1.1"/>
<line x1="192.98" y1="370.2" x2="203.58" y2="370.2" stroke="#000" stroke-width="1.1"/>
<line x1="198.28" y1="371.7" x2="198.28" y2="366.6" stroke="#000" stroke-width="1.1"/>
<line x1="192.98" y1="366.6" x2="203.58" y2="366.6" stroke="#000" stroke-width="1.1"/>
<line x1="198.28" y1="371.7" x2="198.28" y2="364.3" stroke="#000" stroke-width="1.1"/>
<line x1="192.98" y1="364.3" x2="203.58" y2="364.3" stroke="#000" stroke-width="1.1"/>
<rect x="220.35" y="440" width="20.6" height="70.1" fill="#04070e"/>
<path fill="#a2d2fc" d="M221.05 440.81h0.95v1.45h-0.95zM221.05 443.63h0.95v1.45h-0.95zM221.05 446.46h0.95v1.45h-0.95zM221.05 449.29h0.95v1.45h-0.95zM221.05 452.12h0.95v1.45h-0.95zM221.05 454.95h0.95v1.45h-0.95zM221.05 457.78h0.95v1.45h-0.95zM221.05 460.62h0.95v1.45h-0.95zM221.05 463.44h0.95v1.45h-0.95zM221.05 466.27h0.95v1.45h-0.95zM221.05 469.11h0.95v1.45h-0.95zM221.05 471.94h0.95v1.45h-0.95zM221.05 474.76h0.95v1.45h-0.95zM221.05 477.59h0.95v1.45h-0.95zM221.05 480.43h0.95v1.45h-0.95zM221.05 483.25h0.95v1.45h-0.95zM221.05 486.08h0.95v1.45h-0.95zM221.05 488.91h0.95v1.45h-0.95zM221.05 491.75h0.95v1.45h-0.95zM221.05 494.57h0.95v1.45h-0.95zM221.05 497.4h0.95v1.45h-0.95zM221.05 500.24h0.95v1.45h-0.95zM221.05 503.06h0.95v1.45h-0.95zM221.05 505.89h0.95v1.45h-0.95zM221.05 508.72h0.95v1.38h-0.95zM223.23 440.81h1.6v1.45h-1.6zM223.23 443.63h1.6v1.45h-1.6zM223.23 446.46h1.6v1.45h-1.6zM223.23 449.29h1.6v1.45h-1.6zM223.23 452.12h1.6v1.45h-1.6zM223.23 454.95h1.6v1.45h-1.6zM223.23 457.78h1.6v1.45h-1.6zM223.23 460.62h1.6v1.45h-1.6zM223.23 463.44h1.6v1.45h-1.6zM223.23 466.27h1.6v1.45h-1.6zM223.23 469.11h1.6v1.45h-1.6zM223.23 471.94h1.6v1.45h-1.6zM223.23 474.76h1.6v1.45h-1.6zM223.23 477.59h1.6v1.45h-1.6zM223.23 480.43h1.6v1.45h-1.6zM223.23 483.25h1.6v1.45h-1.6zM223.23 486.08h1.6v1.45h-1.6zM223.23 488.91h1.6v1.45h-1.6zM223.23 491.75h1.6v1.45h-1.6zM223.23 494.57h1.6v1.45h-1.6zM223.23 497.4h1.6v1.45h-1.6zM223.23 500.24h1.6v1.45h-1.6zM223.23 503.06h1.6v1.45h-1.6zM223.23 505.89h1.6v1.45h-1.6zM223.23 508.72h1.6v1.38h-1.6zM226.06 440.81h1.6v1.45h-1.6zM226.06 443.63h1.6v1.45h-1.6zM226.06 446.46h1.6v1.45h-1.6zM226.06 449.29h1.6v1.45h-1.6zM226.06 452.12h1.6v1.45h-1.6zM226.06 454.95h1.6v1.45h-1.6zM226.06 457.78h1.6v1.45h-1.6zM226.06 460.62h1.6v1.45h-1.6zM226.06 463.44h1.6v1.45h-1.6zM226.06 466.27h1.6v1.45h-1.6zM226.06 469.11h1.6v1.45h-1.6zM226.06 471.94h1.6v1.45h-1.6zM226.06 474.76h1.6v1.45h-1.6zM226.06 477.59h1.6v1.45h-1.6zM226.06 480.43h1.6v1.45h-1.6zM226.06 483.25h1.6v1.45h-1.6zM226.06 486.08h1.6v1.45h-1.6zM226.06 488.91h1.6v1.45h-1.6zM226.06 491.75h1.6v1.45h-1.6zM226.06 494.57h1.6v1.45h-1.6zM226.06 497.4h1.6v1.45h-1.6zM226.06 500.24h1.6v1.45h-1.6zM226.06 503.06h1.6v1.45h-1.6zM226.06 505.89h1.6v1.45h-1.6zM226.06 508.72h1.6v1.38h-1.6zM228.89 440.81h1.6v1.45h-1.6zM228.89 443.63h1.6v1.45h-1.6zM228.89 446.46h1.6v1.45h-1.6zM228.89 449.29h1.6v1.45h-1.6zM228.89 452.12h1.6v1.45h-1.6zM228.89 454.95h1.6v1.45h-1.6zM228.89 457.78h1.6v1.45h-1.6zM228.89 460.62h1.6v1.45h-1.6zM228.89 463.44h1.6v1.45h-1.6zM228.89 466.27h1.6v1.45h-1.6zM228.89 469.11h1.6v1.45h-1.6zM228.89 471.94h1.6v1.45h-1.6zM228.89 474.76h1.6v1.45h-1.6zM228.89 477.59h1.6v1.45h-1.6zM228.89 480.43h1.6v1.45h-1.6zM228.89 483.25h1.6v1.45h-1.6zM228.89 486.08h1.6v1.45h-1.6zM228.89 488.91h1.6v1.45h-1.6zM228.89 491.75h1.6v1.45h-1.6zM228.89 494.57h1.6v1.45h-1.6zM228.89 497.4h1.6v1.45h-1.6zM228.89 500.24h1.6v1.45h-1.6zM228.89 503.06h1.6v1.45h-1.6zM228.89 505.89h1.6v1.45h-1.6zM228.89 508.72h1.6v1.38h-1.6zM231.72 440.81h1.6v1.45h-1.6zM231.72 443.63h1.6v1.45h-1.6zM231.72 446.46h1.6v1.45h-1.6zM231.72 449.29h1.6v1.45h-1.6zM231.72 452.12h1.6v1.45h-1.6zM231.72 454.95h1.6v1.45h-1.6zM231.72 457.78h1.6v1.45h-1.6zM231.72 460.62h1.6v1.45h-1.6zM231.72 463.44h1.6v1.45h-1.6zM231.72 466.27h1.6v1.45h-1.6zM231.72 469.11h1.6v1.45h-1.6zM231.72 471.94h1.6v1.45h-1.6zM231.72 474.76h1.6v1.45h-1.6zM231.72 477.59h1.6v1.45h-1.6zM231.72 480.43h1.6v1.45h-1.6zM231.72 483.25h1.6v1.45h-1.6zM231.72 486.08h1.6v1.45h-1.6zM231.72 488.91h1.6v1.45h-1.6zM231.72 491.75h1.6v1.45h-1.6zM231.72 494.57h1.6v1.45h-1.6zM231.72 497.4h1.6v1.45h-1.6zM231.72 500.24h1.6v1.45h-1.6zM231.72 503.06h1.6v1.45h-1.6zM231.72 505.89h1.6v1.45h-1.6zM231.72 508.72h1.6v1.38h-1.6zM234.55 440.81h1.6v1.45h-1.6zM234.55 443.63h1.6v1.45h-1.6zM234.55 446.46h1.6v1.45h-1.6zM234.55 449.29h1.6v1.45h-1.6zM234.55 452.12h1.6v1.45h-1.6zM234.55 454.95h1.6v1.45h-1.6zM234.55 457.78h1.6v1.45h-1.6zM234.55 460.62h1.6v1.45h-1.6zM234.55 463.44h1.6v1.45h-1.6zM234.55 466.27h1.6v1.45h-1.6zM234.55 469.11h1.6v1.45h-1.6zM234.55 471.94h1.6v1.45h-1.6zM234.55 474.76h1.6v1.45h-1.6zM234.55 477.59h1.6v1.45h-1.6zM234.55 480.43h1.6v1.45h-1.6zM234.55 483.25h1.6v1.45h-1.6zM234.55 486.08h1.6v1.45h-1.6zM234.55 488.91h1.6v1.45h-1.6zM234.55 491.75h1.6v1.45h-1.6zM234.55 494.57h1.6v1.45h-1.6zM234.55 497.4h1.6v1.45h-1.6zM234.55 500.24h1.6v1.45h-1.6zM234.55 503.06h1.6v1.45h-1.6zM234.55 505.89h1.6v1.45h-1.6zM234.55 508.72h1.6v1.38h-1.6zM237.38 440.81h1.6v1.45h-1.6zM237.38 443.63h1.6v1.45h-1.6zM237.38 446.46h1.6v1.45h-1.6zM237.38 449.29h1.6v1.45h-1.6zM237.38 452.12h1.6v1.45h-1.6zM237.38 454.95h1.6v1.45h-1.6zM237.38 457.78h1.6v1.45h-1.6zM237.38 460.62h1.6v1.45h-1.6zM237.38 463.44h1.6v1.45h-1.6zM237.38 466.27h1.6v1.45h-1.6zM237.38 469.11h1.6v1.45h-1.6zM237.38 471.94h1.6v1.45h-1.6zM237.38 474.76h1.6v1.45h-1.6zM237.38 477.59h1.6v1.45h-1.6zM237.38 480.43h1.6v1.45h-1.6zM237.38 483.25h1.6v1.45h-1.6zM237.38 486.08h1.6v1.45h-1.6zM237.38 488.91h1.6v1.45h-1.6zM237.38 491.75h1.6v1.45h-1.6zM237.38 494.57h1.6v1.45h-1.6zM237.38 497.4h1.6v1.45h-1.6zM237.38 500.24h1.6v1.45h-1.6zM237.38 503.06h1.6v1.45h-1.6zM237.38 505.89h1.6v1.45h-1.6zM237.38 508.72h1.6v1.38h-1.6z"/>
<rect x="220.35" y="440" width="20.6" height="70.1" fill="none" stroke="#000" stroke-width="1.4"/>
<rect x="220.35" y="389.5" width="20.6" height="50.5" fill="#d8d8d8" stroke="#000" stroke-width="1.4"/>
<rect x="220.35" y="376.2" width="20.6" height="13.3" fill="#a0a0a0" stroke="#000" stroke-width="1.4"/>
<rect x="220.35" y="372" width="20.6" height="4.2" fill="#343434" stroke="#000" stroke-width="1.4"/>
<line x1="230.65" y1="440" x2="230.65" y2="400.7" stroke="#000" stroke-width="1.1"/>
<line x1="225.35" y1="400.7" x2="235.95" y2="400.7" stroke="#000" stroke-width="1.1"/>
<line x1="230.65" y1="389.5" x2="230.65" y2="365.4" stroke="#000" stroke-width="1.1"/>
<line x1="225.35" y1="365.4" x2="235.95" y2="365.4" stroke="#000" stroke-width="1.1"/>
<line x1="230.65" y1="372" x2="230.65" y2="356.5" stroke="#000" stroke-width="1.1"/>
<line x1="225.35" y1="356.5" x2="235.95" y2="356.5" stroke="#000" stroke-width="1.1"/>
<rect x="252.72" y="448.2" width="20.6" height="61.9" fill="#000" stroke="#000" stroke-width="1.4"/>
<rect x="252.72" y="392.1" width="20.6" height="56.1" fill="#d8d8d8" stroke="#000" stroke-width="1.4"/>
<rect x="252.72" y="379.1" width="20.6" height="13" fill="#a0a0a0" stroke="#000" stroke-width="1.4"/>
<rect x="252.72" y="372" width="20.6" height="7.1" fill="#343434" stroke="#000" stroke-width="1.4"/>
<line x1="263.02" y1="448.2" x2="263.02" y2="422" stroke="#000" stroke-width="1.1"/>
<line x1="257.72" y1="422" x2="268.32" y2="422" stroke="#000" stroke-width="1.1"/>
<line x1="263.02" y1="392.1" x2="263.02" y2="365.4" stroke="#000" stroke-width="1.1"/>
<line x1="257.72" y1="365.4" x2="268.32" y2="365.4" stroke="#000" stroke-width="1.1"/>
<line x1="263.02" y1="372" x2="263.02" y2="361.3" stroke="#000" stroke-width="1.1"/>
<line x1="257.72" y1="361.3" x2="268.32" y2="361.3" stroke="#000" stroke-width="1.1"/>
<rect x="285.09" y="469.9" width="20.6" height="40.2" fill="#04070e"/>
<path fill="#a2d2fc" d="M285.79 471.94h1.21v1.45h-1.21zM285.79 474.76h1.21v1.45h-1.21zM285.79 477.59h1.21v1.45h-1.21zM285.79 480.43h1.21v1.45h-1.21zM285.79 483.25h1.21v1.45h-1.21zM285.79 486.08h1.21v1.45h-1.21zM285.79 488.91h1.21v1.45h-1.21zM285.79 491.75h1.21v1.45h-1.21zM285.79 494.57h1.21v1.45h-1.21zM285.79 497.4h1.21v1.45h-1.21zM285.79 500.24h1.21v1.45h-1.21zM285.79 503.06h1.21v1.45h-1.21zM285.79 505.89h1.21v1.45h-1.21zM285.79 508.72h1.21v1.38h-1.21zM288.23 471.94h1.6v1.45h-1.6zM288.23 474.76h1.6v1.45h-1.6zM288.23 477.59h1.6v1.45h-1.6zM288.23 480.43h1.6v1.45h-1.6zM288.23 483.25h1.6v1.45h-1.6zM288.23 486.08h1.6v1.45h-1.6zM288.23 488.91h1.6v1.45h-1.6zM288.23 491.75h1.6v1.45h-1.6zM288.23 494.57h1.6v1.45h-1.6zM288.23 497.4h1.6v1.45h-1.6zM288.23 500.24h1.6v1.45h-1.6zM288.23 503.06h1.6v1.45h-1.6zM288.23 505.89h1.6v1.45h-1.6zM288.23 508.72h1.6v1.38h-1.6zM291.06 471.94h1.6v1.45h-1.6zM291.06 474.76h1.6v1.45h-1.6zM291.06 477.59h1.6v1.45h-1.6zM291.06 480.43h1.6v1.45h-1.6zM291.06 483.25h1.6v1.45h-1.6zM291.06 486.08h1.6v1.45h-1.6zM291.06 488.91h1.6v1.45h-1.6zM291.06 491.75h1.6v1.45h-1.6zM291.06 494.57h1.6v1.45h-1.6zM291.06 497.4h1.6v1.45h-1.6zM291.06 500.24h1.6v1.45h-1.6zM291.06 503.06h1.6v1.45h-1.6zM291.06 505.89h1.6v1.45h-1.6zM291.06 508.72h1.6v1.38h-1.6zM293.89 471.94h1.6v1.45h-1.6zM293.89 474.76h1.6v1.45h-1.6zM293.89 477.59h1.6v1.45h-1.6zM293.89 480.43h1.6v1.45h-1.6zM293.89 483.25h1.6v1.45h-1.6zM293.89 486.08h1.6v1.45h-1.6zM293.89 488.91h1.6v1.45h-1.6zM293.89 491.75h1.6v1.45h-1.6zM293.89 494.57h1.6v1.45h-1.6zM293.89 497.4h1.6v1.45h-1.6zM293.89 500.24h1.6v1.45h-1.6zM293.89 503.06h1.6v1.45h-1.6zM293.89 505.89h1.6v1.45h-1.6zM293.89 508.72h1.6v1.38h-1.6zM296.72 471.94h1.6v1.45h-1.6zM296.72 474.76h1.6v1.45h-1.6zM296.72 477.59h1.6v1.45h-1.6zM296.72 480.43h1.6v1.45h-1.6zM296.72 483.25h1.6v1.45h-1.6zM296.72 486.08h1.6v1.45h-1.6zM296.72 488.91h1.6v1.45h-1.6zM296.72 491.75h1.6v1.45h-1.6zM296.72 494.57h1.6v1.45h-1.6zM296.72 497.4h1.6v1.45h-1.6zM296.72 500.24h1.6v1.45h-1.6zM296.72 503.06h1.6v1.45h-1.6zM296.72 505.89h1.6v1.45h-1.6zM296.72 508.72h1.6v1.38h-1.6zM299.55 471.94h1.6v1.45h-1.6zM299.55 474.76h1.6v1.45h-1.6zM299.55 477.59h1.6v1.45h-1.6zM299.55 480.43h1.6v1.45h-1.6zM299.55 483.25h1.6v1.45h-1.6zM299.55 486.08h1.6v1.45h-1.6zM299.55 488.91h1.6v1.45h-1.6zM299.55 491.75h1.6v1.45h-1.6zM299.55 494.57h1.6v1.45h-1.6zM299.55 497.4h1.6v1.45h-1.6zM299.55 500.24h1.6v1.45h-1.6zM299.55 503.06h1.6v1.45h-1.6zM299.55 505.89h1.6v1.45h-1.6zM299.55 508.72h1.6v1.38h-1.6zM302.38 471.94h1.6v1.45h-1.6zM302.38 474.76h1.6v1.45h-1.6zM302.38 477.59h1.6v1.45h-1.6zM302.38 480.43h1.6v1.45h-1.6zM302.38 483.25h1.6v1.45h-1.6zM302.38 486.08h1.6v1.45h-1.6zM302.38 488.91h1.6v1.45h-1.6zM302.38 491.75h1.6v1.45h-1.6zM302.38 494.57h1.6v1.45h-1.6zM302.38 497.4h1.6v1.45h-1.6zM302.38 500.24h1.6v1.45h-1.6zM302.38 503.06h1.6v1.45h-1.6zM302.38 505.89h1.6v1.45h-1.6zM302.38 508.72h1.6v1.38h-1.6z"/>
<rect x="285.09" y="469.9" width="20.6" height="40.2" fill="none" stroke="#000" stroke-width="1.4"/>
<rect x="285.09" y="387.6" width="20.6" height="82.3" fill="#d8d8d8" stroke="#000" stroke-width="1.4"/>
<rect x="285.09" y="373.2" width="20.6" height="14.4" fill="#a0a0a0" stroke="#000" stroke-width="1.4"/>
<rect x="285.09" y="371.9" width="20.6" height="1.3" fill="#343434" stroke="#000" stroke-width="1.4"/>
<line x1="295.39" y1="469.9" x2="295.39" y2="435" stroke="#000" stroke-width="1.1"/>
<line x1="290.09" y1="435" x2="300.69" y2="435" stroke="#000" stroke-width="1.1"/>
<line x1="295.39" y1="387.6" x2="295.39" y2="369.7" stroke="#000" stroke-width="1.1"/>
<line x1="290.09" y1="369.7" x2="300.69" y2="369.7" stroke="#000" stroke-width="1.1"/>
<line x1="295.39" y1="373.2" x2="295.39" y2="359.7" stroke="#000" stroke-width="1.1"/>
<line x1="290.09" y1="359.7" x2="300.69" y2="359.7" stroke="#000" stroke-width="1.1"/>
<line x1="295.39" y1="371.9" x2="295.39" y2="351.6" stroke="#000" stroke-width="1.1"/>
<line x1="290.09" y1="351.6" x2="300.69" y2="351.6" stroke="#000" stroke-width="1.1"/>
<line x1="47" y1="337.23" x2="47" y2="510.85" stroke="#000" stroke-width="1.5"/>
<line x1="46.25" y1="510.1" x2="317" y2="510.1" stroke="#000" stroke-width="1.5"/>
<line x1="43.5" y1="510.1" x2="47" y2="510.1" stroke="#000" stroke-width="1.2"/>
<text x="42.5" y="513.23" text-anchor="end" class="tk" style="font-size:8.7px">0</text>
<line x1="43.5" y1="475.53" x2="47" y2="475.53" stroke="#000" stroke-width="1.2"/>
<text x="42.5" y="478.66" text-anchor="end" class="tk" style="font-size:8.7px">25</text>
<line x1="43.5" y1="440.95" x2="47" y2="440.95" stroke="#000" stroke-width="1.2"/>
<text x="42.5" y="444.08" text-anchor="end" class="tk" style="font-size:8.7px">50</text>
<line x1="43.5" y1="406.38" x2="47" y2="406.38" stroke="#000" stroke-width="1.2"/>
<text x="42.5" y="409.51" text-anchor="end" class="tk" style="font-size:8.7px">75</text>
<line x1="43.5" y1="371.8" x2="47" y2="371.8" stroke="#000" stroke-width="1.2"/>
<text x="42.5" y="374.93" text-anchor="end" class="tk" style="font-size:8.7px">100</text>
<line x1="43.5" y1="337.23" x2="47" y2="337.23" stroke="#000" stroke-width="1.2"/>
<text x="42.5" y="340.36" text-anchor="end" class="tk" style="font-size:8.7px">125</text>
<line x1="68.8" y1="510.1" x2="68.8" y2="513.1" stroke="#000" stroke-width="1.2"/>
<text x="68.8" y="522.8" text-anchor="middle" class="tk" style="font-size:8.7px">0</text>
<line x1="101.17" y1="510.1" x2="101.17" y2="513.1" stroke="#000" stroke-width="1.2"/>
<text x="101.17" y="522.8" text-anchor="middle" class="tk" style="font-size:8.7px">0</text>
<line x1="133.54" y1="510.1" x2="133.54" y2="513.1" stroke="#000" stroke-width="1.2"/>
<text x="133.54" y="522.8" text-anchor="middle" class="tk" style="font-size:8.7px">50</text>
<line x1="165.91" y1="510.1" x2="165.91" y2="513.1" stroke="#000" stroke-width="1.2"/>
<text x="165.91" y="522.8" text-anchor="middle" class="tk" style="font-size:8.7px">50</text>
<line x1="198.28" y1="510.1" x2="198.28" y2="513.1" stroke="#000" stroke-width="1.2"/>
<text x="198.28" y="522.8" text-anchor="middle" class="tk" style="font-size:8.7px">100</text>
<line x1="230.65" y1="510.1" x2="230.65" y2="513.1" stroke="#000" stroke-width="1.2"/>
<text x="230.65" y="522.8" text-anchor="middle" class="tk" style="font-size:8.7px">100</text>
<line x1="263.02" y1="510.1" x2="263.02" y2="513.1" stroke="#000" stroke-width="1.2"/>
<text x="263.02" y="522.8" text-anchor="middle" class="tk" style="font-size:8.7px">200</text>
<line x1="295.39" y1="510.1" x2="295.39" y2="513.1" stroke="#000" stroke-width="1.2"/>
<text x="295.39" y="522.8" text-anchor="middle" class="tk" style="font-size:8.7px">200</text>
<text x="177.4" y="17.65" text-anchor="middle" class="ser" style="font-size:10.8px"><tspan class="np">(</tspan>E<tspan class="np">)</tspan></text>
<text x="182.4" y="36.6" text-anchor="middle" class="sb" style="font-size:10.9px">24 h</text>
<text x="177.3" y="290.35" text-anchor="middle" class="ser" style="font-size:10.8px"><tspan class="np">(</tspan>F<tspan class="np">)</tspan></text>
<text x="181.6" y="308.6" text-anchor="middle" class="sb" style="font-size:10.7px">48 h</text>
<text x="182.2" y="269.4" text-anchor="middle" class="sb" style="font-size:10.35px">Pep. 27 [µM]</text>
<text x="181.9" y="541.7" text-anchor="middle" class="sb" style="font-size:10.2px">Pep. 27 [µM]</text>
<text transform="translate(21.2 150.8) rotate(-90)" text-anchor="middle" class="sb" style="font-size:10.1px">Number of Cells</text>
<text transform="translate(25.2 421) rotate(-90)" text-anchor="middle" class="sb" style="font-size:10.1px">Number of Cells</text>
<text x="147.6" y="72" text-anchor="middle" class="sb red" style="font-size:7.05px">late apoptosis (30%)</text>
<text x="301.35" y="333.6" text-anchor="middle" class="sb red" style="font-size:6.95px">early apoptosis (40%)</text>
<text x="132.65" y="80.1" text-anchor="middle" class="sb" style="font-size:6.8px">###</text>
<text x="132.65" y="88.7" text-anchor="middle" class="sb" style="font-size:6.8px">&amp;&amp;&amp;</text>
<text x="165.8" y="93.9" text-anchor="middle" class="sb" style="font-size:6.8px">&amp;&amp;&amp;</text>
<text x="198.95" y="83.7" text-anchor="middle" class="sb" style="font-size:6.8px">#</text>
<text x="198.95" y="91.6" text-anchor="middle" class="sb" style="font-size:6.8px">&amp;&amp;&amp;</text>
<text x="232.1" y="92.8" text-anchor="middle" class="sb" style="font-size:6.8px">&amp;&amp;</text>
<text x="265.25" y="77.9" text-anchor="middle" class="sb" style="font-size:6.8px">#</text>
<text x="265.25" y="85.9" text-anchor="middle" class="sb" style="font-size:6.8px">&amp;&amp;&amp;</text>
<text x="298.4" y="76.6" text-anchor="middle" class="sb" style="font-size:6.8px">##</text>
<text x="298.4" y="84.3" text-anchor="middle" class="sb" style="font-size:6.8px">&amp;&amp;&amp;</text>
<text x="295.39" y="341.8" text-anchor="middle" class="sb" style="font-size:6.8px">++</text>
<text x="295.39" y="349" text-anchor="middle" class="sb" style="font-size:6.8px">&amp;&amp;</text>
</svg>
</body></html>
